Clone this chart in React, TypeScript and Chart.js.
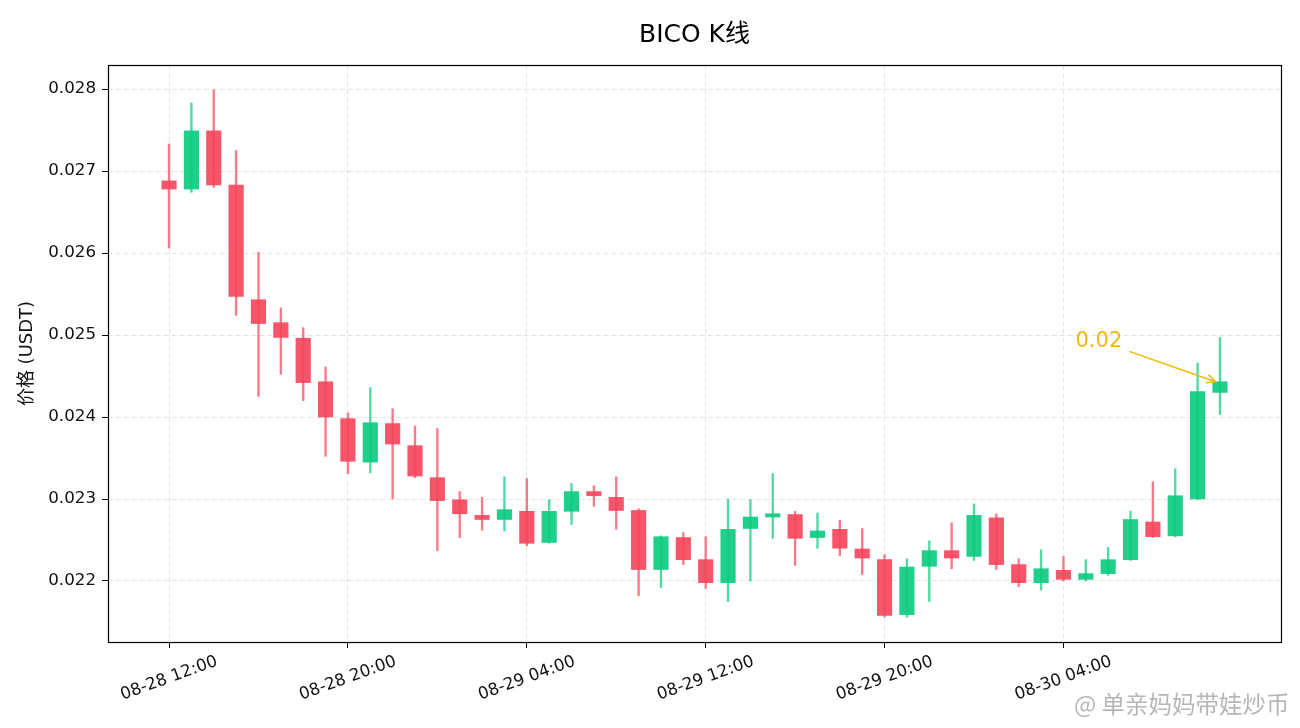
import React, { useEffect, useRef } from "react";
import { Chart, registerables } from "chart.js";

Chart.register(...registerables);

const times = [
  "08-28 12:00", "08-28 13:00", "08-28 14:00", "08-28 15:00", "08-28 16:00", "08-28 17:00",
  "08-28 18:00", "08-28 19:00", "08-28 20:00", "08-28 21:00", "08-28 22:00", "08-28 23:00",
  "08-29 00:00", "08-29 01:00", "08-29 02:00", "08-29 03:00", "08-29 04:00", "08-29 05:00",
  "08-29 06:00", "08-29 07:00", "08-29 08:00", "08-29 09:00", "08-29 10:00", "08-29 11:00",
  "08-29 12:00", "08-29 13:00", "08-29 14:00", "08-29 15:00", "08-29 16:00", "08-29 17:00",
  "08-29 18:00", "08-29 19:00", "08-29 20:00", "08-29 21:00", "08-29 22:00", "08-29 23:00",
  "08-30 00:00", "08-30 01:00", "08-30 02:00", "08-30 03:00", "08-30 04:00", "08-30 05:00",
  "08-30 06:00", "08-30 07:00", "08-30 08:00", "08-30 09:00", "08-30 10:00", "08-30 11:00",
];

const opens = [
  0.02688, 0.02678, 0.02749, 0.02683, 0.02543, 0.02515, 0.02496, 0.02443,
  0.02398, 0.02345, 0.02392, 0.02365, 0.02326, 0.02299, 0.0228, 0.02275,
  0.02285, 0.02247, 0.02285, 0.02309, 0.02302, 0.02286, 0.02214, 0.02253,
  0.02226, 0.02198, 0.02264, 0.02278, 0.02281, 0.02253, 0.02263, 0.02239,
  0.02226, 0.02159, 0.02218, 0.02237, 0.0223, 0.02277, 0.0222, 0.02198,
  0.02213, 0.02202, 0.02209, 0.02226, 0.02272, 0.02255, 0.023, 0.0243,
];
const highs = [
  0.02733, 0.02783, 0.02799, 0.02725, 0.02601, 0.02533, 0.02509, 0.02461,
  0.02405, 0.02436, 0.0241, 0.02389, 0.02386, 0.02309, 0.02302, 0.02327,
  0.02325, 0.02299, 0.02319, 0.02316, 0.02327, 0.02288, 0.02255, 0.02259,
  0.02254, 0.023, 0.02299, 0.02331, 0.02285, 0.02283, 0.02274, 0.02264,
  0.02232, 0.02227, 0.02249, 0.02271, 0.02294, 0.02282, 0.02227, 0.02238,
  0.0223, 0.02226, 0.02241, 0.02285, 0.02321, 0.02337, 0.02466, 0.02497,
];
const lows = [
  0.02606, 0.02674, 0.0268, 0.02524, 0.02425, 0.02452, 0.0242, 0.02352,
  0.02331, 0.02332, 0.023, 0.02326, 0.02237, 0.02253, 0.02262, 0.02261,
  0.02243, 0.02246, 0.02269, 0.02291, 0.02263, 0.02182, 0.02192, 0.0222,
  0.02191, 0.02175, 0.022, 0.02252, 0.02219, 0.0224, 0.02231, 0.02208,
  0.02156, 0.02156, 0.02175, 0.02215, 0.02225, 0.02214, 0.02193, 0.02189,
  0.022, 0.022, 0.02207, 0.02225, 0.02253, 0.02254, 0.02299, 0.02403,
];
const closes = [
  0.02678, 0.02749, 0.02683, 0.02547, 0.02514, 0.02497, 0.02442, 0.024,
  0.02346, 0.02393, 0.02367, 0.02328, 0.02298, 0.02282, 0.02275, 0.02287,
  0.02246, 0.02285, 0.02309, 0.02304, 0.02286, 0.02214, 0.02254, 0.02226,
  0.02198, 0.02263, 0.02278, 0.02282, 0.02252, 0.02261, 0.0224, 0.02228,
  0.02158, 0.02217, 0.02237, 0.02228, 0.0228, 0.0222, 0.02198, 0.02215,
  0.02202, 0.02209, 0.02226, 0.02275, 0.02254, 0.02304, 0.02431, 0.02443,
];

const xTickIndices = [0, 8, 16, 24, 32, 40];
const yTickValues = [0.022, 0.023, 0.024, 0.025, 0.026, 0.027, 0.028];

const chartTitle = "BICO K线";
const yAxisTitle = "价格 (USDT)";
const watermarkText = "@ 单亲妈妈带娃炒币";

const FONT = "'DejaVu Sans', 'Noto Sans CJK SC', sans-serif";
const UP_BODY = "rgba(14,203,129,0.93)";
const DOWN_BODY = "rgba(246,70,93,0.92)";
const UP_WICK = "rgba(14,203,129,0.72)";
const DOWN_WICK = "rgba(246,70,93,0.72)";
const GOLD = "#F0B90B";

const extrasPlugin = {
  id: "extras",
  afterDatasetsDraw(chart: any) {
    const { ctx, scales } = chart;
    const xs = scales.x;
    const ys = scales.y;
    const last = closes.length - 1;
    ctx.save();
    const label = closes[last].toFixed(2);
    const tx = xs.getPixelForValue(last - 0.2);
    const ty = ys.getPixelForValue(closes[last]);
    const sx = xs.getPixelForValue(last - 4.05);
    const sy = ys.getPixelForValue(0.0248);
    ctx.font = `21px ${FONT}`;
    ctx.fillStyle = GOLD;
    ctx.textAlign = "left";
    ctx.textBaseline = "middle";
    ctx.fillText(label, xs.getPixelForValue(last - 6.46), ys.getPixelForValue(0.02492));
    ctx.strokeStyle = GOLD;
    ctx.lineWidth = 1.5;
    ctx.beginPath();
    ctx.moveTo(sx, sy);
    ctx.lineTo(tx, ty);
    const ang = Math.atan2(ty - sy, tx - sx);
    const hl = 10;
    const ha = 0.45;
    ctx.moveTo(tx - hl * Math.cos(ang - ha), ty - hl * Math.sin(ang - ha));
    ctx.lineTo(tx, ty);
    ctx.lineTo(tx - hl * Math.cos(ang + ha), ty - hl * Math.sin(ang + ha));
    ctx.stroke();
    ctx.restore();
  },
  afterDraw(chart: any) {
    const { ctx, chartArea: a, scales } = chart;
    const xs = scales.x;
    ctx.save();
    ctx.strokeStyle = "#000";
    ctx.lineWidth = 1.2;
    ctx.strokeRect(a.left + 0.5, a.top + 0.5, a.right - a.left, a.bottom - a.top);
    ctx.fillStyle = "#000";
    ctx.font = `25px ${FONT}`;
    ctx.textAlign = "center";
    ctx.textBaseline = "alphabetic";
    ctx.fillText(chartTitle, (a.left + a.right) / 2, 42);
    const rot = (20 * Math.PI) / 180;
    ctx.font = `16.7px ${FONT}`;
    ctx.fillStyle = "#111";
    for (const idx of xTickIndices) {
      const txt = times[idx];
      const L = ctx.measureText(txt).width;
      const h = 19;
      const cy = a.bottom + 10 + (L * Math.sin(rot) + h * Math.cos(rot)) / 2;
      const px = xs.getPixelForValue(idx);
      ctx.save();
      ctx.translate(px, cy);
      ctx.rotate(-rot);
      ctx.textAlign = "center";
      ctx.textBaseline = "middle";
      ctx.fillText(txt, 0, 0);
      ctx.restore();
    }
    ctx.restore();
  },
};

export default function App() {
  const ref = useRef<HTMLCanvasElement | null>(null);

  useEffect(() => {
    if (!ref.current) return;
    const bodyData = opens.map((o, i) => ({ x: i, y: [o, closes[i]] }));
    const wickData = lows.map((l, i) => ({ x: i, y: [l, highs[i]] }));
    const up = opens.map((o, i) => closes[i] >= o);

    const gridOpts: any = {
      color: "#e4e4e4",
      lineWidth: 1,
      offset: false,
      drawTicks: true,
      tickLength: 6,
      tickColor: "#000",
      tickWidth: 1,
      tickBorderDash: [],
    };

    const chart = new Chart(ref.current, {
      type: "bar",
      data: {
        datasets: [
          {
            label: "body",
            data: bodyData as any,
            backgroundColor: up.map((u) => (u ? UP_BODY : DOWN_BODY)),
            borderWidth: 0,
            borderSkipped: false,
            barThickness: 14.5,
            grouped: false,
          } as any,
          {
            label: "wick",
            data: wickData as any,
            backgroundColor: up.map((u) => (u ? UP_WICK : DOWN_WICK)),
            borderWidth: 0,
            borderSkipped: false,
            barThickness: 1.7,
            grouped: false,
          } as any,
        ],
      },
      options: {
        responsive: false,
        animation: false,
        events: [],
        layout: { padding: { top: 65, right: 19, left: 0, bottom: 0 } },
        plugins: {
          legend: { display: false },
          tooltip: { enabled: false },
          title: { display: false },
        },
        scales: {
          x: {
            type: "linear",
            min: -2.73,
            max: 49.73,
            offset: false,
            afterBuildTicks: (s: any) => {
              s.ticks = xTickIndices.map((v) => ({ value: v }));
            },
            afterFit: (s: any) => {
              s.height = 86;
            },
            ticks: { display: false },
            grid: { ...gridOpts },
            border: { display: false, dash: [5, 3] },
          },
          y: {
            type: "linear",
            min: 0.021256,
            max: 0.028293,
            afterBuildTicks: (s: any) => {
              s.ticks = yTickValues.map((v) => ({ value: v }));
            },
            afterFit: (s: any) => {
              s.width = 108;
            },
            ticks: {
              color: "#111",
              padding: 6,
              font: { family: FONT, size: 16.7 },
              callback: (v: any) => Number(v).toFixed(3),
            },
            grid: { ...gridOpts },
            border: { display: false, dash: [5, 3] },
            title: {
              display: true,
              text: yAxisTitle,
              color: "#111",
              font: { family: FONT, size: 18 },
              padding: { top: 17, bottom: 0 },
            },
          },
        },
      },
      plugins: [extrasPlugin],
    } as any);
    return () => chart.destroy();
  }, []);

  return (
    <div style={{ position: "absolute", left: 0, top: 0, width: 1300, height: 728, background: "#fff" }}>
      <canvas ref={ref} width={1300} height={728} style={{ width: 1300, height: 728, display: "block" }} />
      <div
        style={{
          position: "absolute",
          left: 1074,
          top: 688,
          fontFamily: "'Noto Sans CJK SC', sans-serif",
          fontSize: 23.5,
          lineHeight: "30px",
          color: "rgba(110,110,110,0.5)",
          whiteSpace: "nowrap",
          textShadow: "0 0 2px #fff",
        }}
      >
        {watermarkText}
      </div>
    </div>
  );
}
